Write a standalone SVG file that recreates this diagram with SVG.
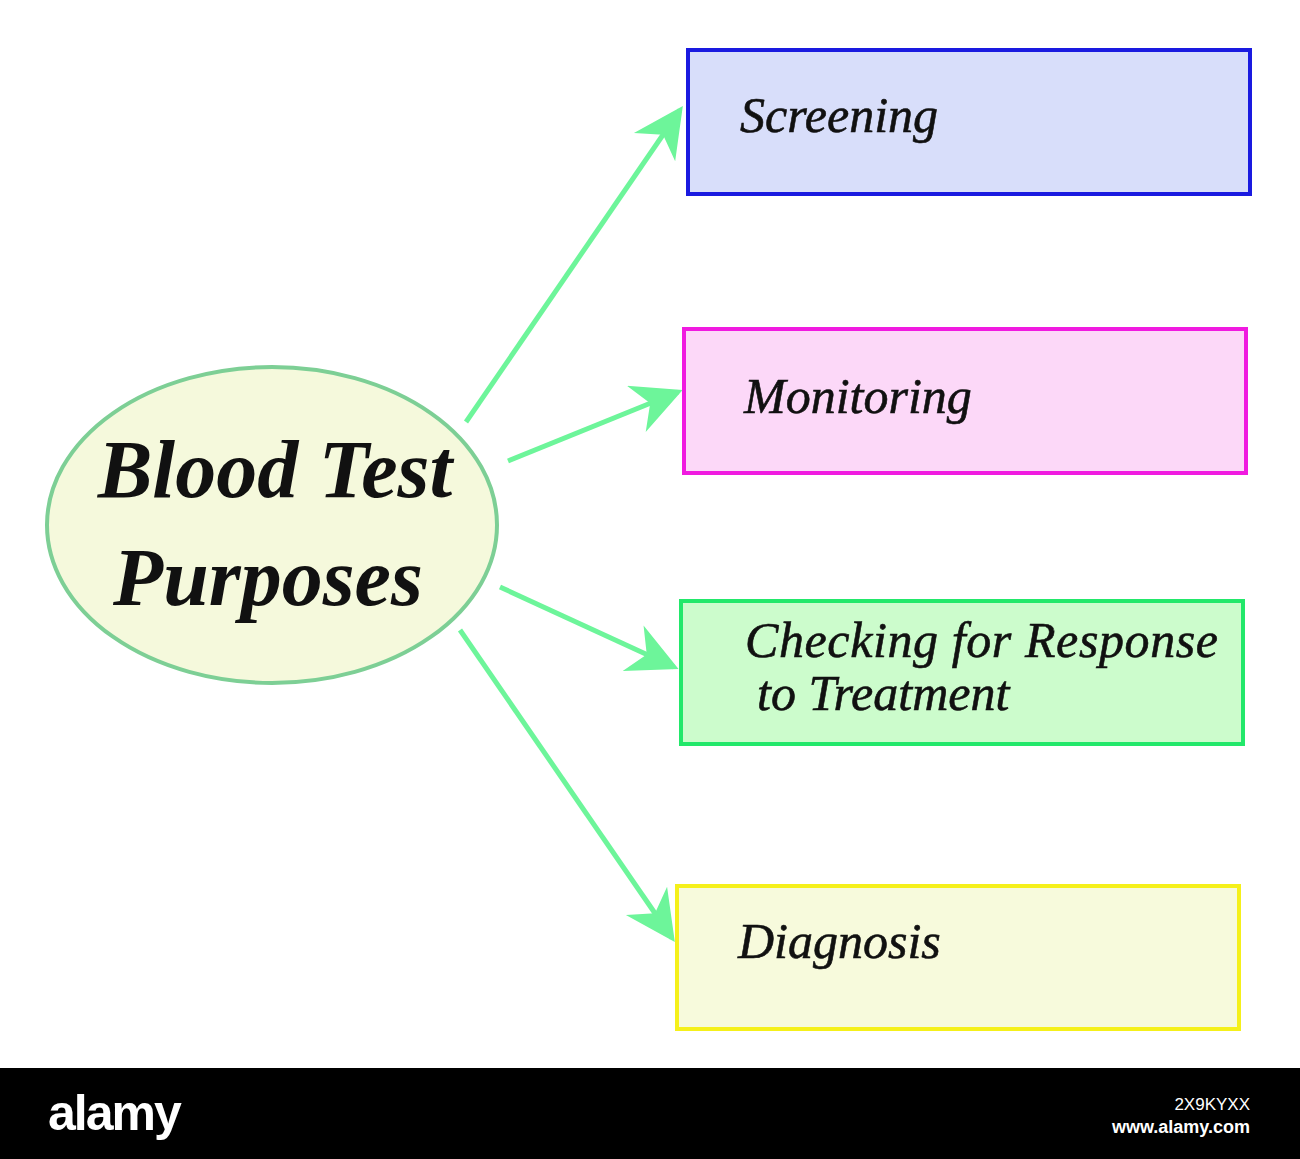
<svg xmlns="http://www.w3.org/2000/svg" width="1300" height="1159" viewBox="0 0 1300 1159">
<style>
.lbl{font-family:"Liberation Serif",serif;font-style:italic;font-size:50px;fill:#111;stroke:#111;stroke-width:0.6}
.ttl{font-family:"Liberation Serif",serif;font-style:italic;font-weight:bold;font-size:82px;fill:#111;text-anchor:middle}
.box{stroke-width:4}
.con{stroke:#6df59a;stroke-width:5;fill:none}
</style>
<defs>
<marker id="ah" viewBox="0 0 10 10" refX="9" refY="5" markerWidth="13" markerHeight="10" markerUnits="strokeWidth" orient="auto">
<path d="M0,0 L10,5 L0,10 L3,5 Z" fill="#6df59a"/>
</marker>
</defs>
<rect width="1300" height="1159" fill="#fff"/>
<g id="connectors">
<line class="con" x1="466" y1="422" x2="680" y2="110" marker-end="url(#ah)"/>
<line class="con" x1="508" y1="461" x2="678" y2="392" marker-end="url(#ah)"/>
<line class="con" x1="500" y1="587" x2="674" y2="667" marker-end="url(#ah)"/>
<line class="con" x1="460" y1="630" x2="672" y2="938" marker-end="url(#ah)"/>
</g>
<g id="center">
<ellipse cx="272" cy="525" rx="225" ry="158" fill="#f5f9dc" stroke="#7dcf95" stroke-width="4"/>
<text class="ttl" x="275" y="497">Blood Test</text>
<text class="ttl" x="268" y="605">Purposes</text>
</g>
<g id="screening">
<rect class="box" x="688" y="50" width="562" height="144" fill="#d8defa" stroke="#1a1ae0"/>
<text class="lbl" x="740" y="132">Screening</text>
</g>
<g id="monitoring">
<rect class="box" x="684" y="329" width="562" height="144" fill="#fcd8f8" stroke="#f01ae0"/>
<text class="lbl" x="744" y="413">Monitoring</text>
</g>
<g id="checking">
<rect class="box" x="681" y="601" width="562" height="143" fill="#ccfccc" stroke="#22e86a"/>
<text class="lbl" x="745" y="657" textLength="473">Checking for Response</text>
<text class="lbl" x="757" y="710">to Treatment</text>
</g>
<g id="diagnosis">
<rect class="box" x="677" y="886" width="562" height="143" fill="#f7fadc" stroke="#f5f01a"/>
<text class="lbl" x="738" y="958">Diagnosis</text>
</g>
<g id="footer">
<rect x="0" y="1068" width="1300" height="91" fill="#000"/>
<text x="48" y="1130" font-family="Liberation Sans,sans-serif" font-weight="bold" font-size="50" fill="#fff" letter-spacing="-2">alamy</text>
<text x="1250" y="1110" font-family="Liberation Sans,sans-serif" font-size="17" fill="#fff" text-anchor="end">2X9KYXX</text>
<text x="1250" y="1133" font-family="Liberation Sans,sans-serif" font-weight="bold" font-size="18" fill="#fff" text-anchor="end">www.alamy.com</text>
</g>
</svg>
